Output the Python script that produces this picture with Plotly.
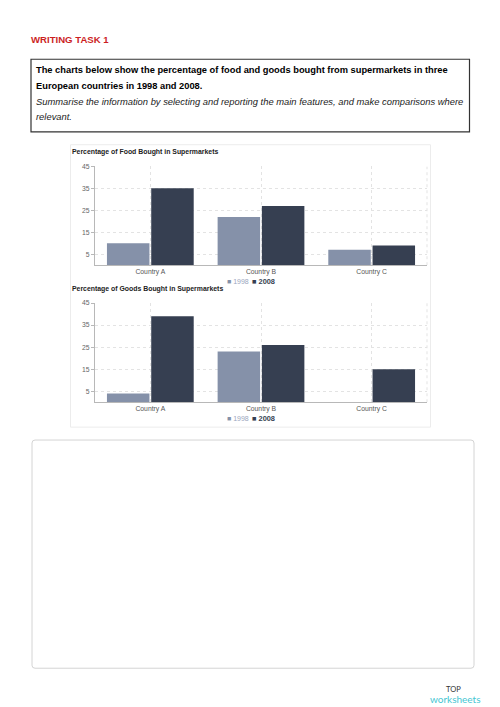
import plotly.graph_objects as go

# page is offset by the browser's default 8px body margin
OFF = 8
W, H = 500 - OFF, 707 - OFF
def X(px): return (px - OFF) / W
def Y(py): return 1 - (py - OFF) / H

categories = ["Country A", "Country B", "Country C"]
years = ["1998", "2008"]
food_1998 = [10, 22, 7]
food_2008 = [35, 27, 9]
goods_1998 = [4, 23, 0]
goods_2008 = [39, 26, 15]
y_ticks = [5, 15, 25, 35, 45]

C1998 = "#8591a9"
C2008 = "#363f51"
GRID = "#e3e3e3"
AXIS = "#b8b8b8"
FONT = "Liberation Sans, Arial, sans-serif"

fig = go.Figure()
for vals, col, name, xa, ya in [
    (food_1998, C1998, years[0], "x", "y"),
    (food_2008, C2008, years[1], "x", "y"),
    (goods_1998, C1998, years[0], "x2", "y2"),
    (goods_2008, C2008, years[1], "x2", "y2"),
]:
    fig.add_trace(go.Bar(x=categories, y=vals, name=name, marker_color=col,
                         marker_line_width=0, xaxis=xa, yaxis=ya, showlegend=False))

axis_common_x = dict(showgrid=True, gridcolor=GRID, griddash="dot", gridwidth=1,
                     showline=True, linecolor=AXIS, linewidth=1, ticks="",
                     tickfont=dict(size=6.8, color="#555", family=FONT), fixedrange=True)
axis_common_y = dict(range=[0, 45], tickvals=y_ticks, showgrid=True, gridcolor=GRID,
                     griddash="dot", gridwidth=1, showline=True, linecolor=AXIS,
                     linewidth=1, ticks="outside", ticklen=3, tickcolor=AXIS,
                     tickfont=dict(size=6.8, color="#666", family=FONT), zeroline=False,
                     fixedrange=True)

fig.update_layout(
    width=W, height=H, margin=dict(l=0, r=0, t=0, b=0),
    paper_bgcolor="white", plot_bgcolor="white",
    barmode="group", bargap=0.2, bargroupgap=0.04,
    xaxis=dict(domain=[X(95), X(427)], anchor="y", **axis_common_x),
    yaxis=dict(domain=[Y(262.7), Y(163.3)], anchor="x", **axis_common_y),
    xaxis2=dict(domain=[X(95), X(427)], anchor="y2", **axis_common_x),
    yaxis2=dict(domain=[Y(400.5), Y(300.7)], anchor="x2", **axis_common_y),
    showlegend=False,
)

shapes = []
# page right edge line
shapes.append(dict(type="line", xref="paper", yref="paper", x0=X(497.5), x1=X(497.5),
                   y0=0, y1=1, line=dict(color="#e2e2e2", width=1)))
# task box
shapes.append(dict(type="rect", xref="paper", yref="paper", x0=X(31), x1=X(469.5),
                   y0=Y(128.5), y1=Y(55.5), line=dict(color="#333", width=1.2)))
# chart card
shapes.append(dict(type="rect", xref="paper", yref="paper", x0=X(70.5), x1=X(430.5),
                   y0=Y(425.5), y1=Y(141.5), line=dict(color="#ececec", width=1), layer="below"))
# right dotted edge of plot areas
for xr, yr in [("x domain", "y"), ("x2 domain", "y2")]:
    shapes.append(dict(type="line", xref=xr, yref=yr, x0=1, x1=1, y0=0, y1=45,
                       line=dict(color=GRID, width=1, dash="dot")))
# answer box with rounded corners
x0, x1, y0, y1, r = X(32), X(474), Y(668), Y(438.5), 3
rx, ry = r / W, r / H
path = (f"M {x0+rx},{y1} L {x1-rx},{y1} Q {x1},{y1} {x1},{y1-ry} "
        f"L {x1},{y0+ry} Q {x1},{y0} {x1-rx},{y0} L {x0+rx},{y0} Q {x0},{y0} {x0},{y0+ry} "
        f"L {x0},{y1-ry} Q {x0},{y1} {x0+rx},{y1} Z")
shapes.append(dict(type="path", xref="paper", yref="paper", path=path,
                   line=dict(color="#d4d4d4", width=1)))
fig.update_layout(shapes=shapes)

ann = []
def text(px, py, s, size, color="#000", xanchor="left", family=FONT):
    ann.append(dict(x=X(px), y=Y(py), xref="paper", yref="paper", text=s, showarrow=False,
                    xanchor=xanchor, yanchor="middle", font=dict(size=size, color=color, family=family)))

text(29, 36, "<b>WRITING TASK 1</b>", 9.6, "#cc1f1f")
text(34, 66, "<b>The charts below show the percentage of food and goods bought from supermarkets in three</b>", 9.3)
text(34, 82, "<b>European countries in 1998 and 2008.</b>", 9.3)
text(34, 98, "<i>Summarise the information by selecting and reporting the main features, and make comparisons where</i>", 9.4, "#222")
text(34, 113, "<i>relevant.</i>", 9.4, "#222")

text(69.5, 148.5, "<b>Percentage of Food Bought in Supermarkets</b>", 6.9, "#222")
text(69.5, 287, "<b>Percentage of Goods Bought in Supermarkets</b>", 6.9, "#222")

for ly in [279.3, 417.3]:
    text(224.5, ly, f"<span style='color:{C1998}'>■</span> <span style='color:#9aa6bd'>{years[0]}</span>", 7.0)
    text(249.5, ly, f"<span style='color:{C2008}'>■</span> <b>{years[1]}</b>", 7.4, C2008)

text(453, 689, "TOP", 7.5, "#333", xanchor="center", family="Lato, sans-serif")
text(455, 698.5, "worksheets", 10, "#45c6d3", xanchor="center", family="Lato, sans-serif")

fig.update_layout(annotations=ann)
fig.write_html("out.html", config={"displayModeBar": False})
